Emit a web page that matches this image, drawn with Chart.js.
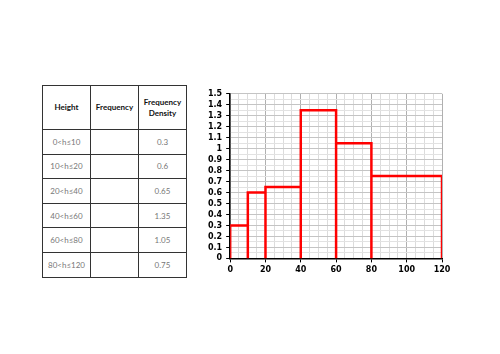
<!DOCTYPE html>
<html>
<head>
<meta charset="utf-8">
<script src="https://cdn.jsdelivr.net/npm/chart.js@4"></script>
<style>
  html, body { margin: 0; padding: 0; background: #fff; width: 500px; height: 354px; overflow: hidden; }
  #tbl { position: absolute; left: 42px; top: 85px; border-collapse: collapse; font-family: Lato, sans-serif; font-size: 8px; }
  #tbl th, #tbl td { border: 1px solid #333; width: 47px; text-align: center; padding: 0; }
  #tbl th { height: 43px; font-weight: bold; color: #111; line-height: 11px; }
  #tbl td { height: 23.6px; color: #777; }
  #wrap { position: absolute; left: 204px; top: 85px; width: 256px; height: 193px; }
</style>
</head>
<body>
<table id="tbl"></table>
<div id="wrap"><canvas id="chart"></canvas></div>
<script>
  // class boundaries and frequency densities
  var classLabels = ['0<h\u226410', '10<h\u226420', '20<h\u226440', '40<h\u226460', '60<h\u226480', '80<h\u2264120'];
  var edges = [0, 10, 20, 40, 60, 80, 120];
  var density = [0.3, 0.6, 0.65, 1.35, 1.05, 0.75];
  var headers = ['Height', 'Frequency', 'Frequency<br>Density'];

  function esc(s) { return s.replace(/&/g, '&amp;').replace(/</g, '&lt;'); }

  // table
  var html = '<tr>' + headers.map(function (h) { return '<th>' + h + '</th>'; }).join('') + '</tr>';
  classLabels.forEach(function (c, i) {
    html += '<tr><td>' + esc(c) + '</td><td></td><td>' + density[i] + '</td></tr>';
  });
  document.getElementById('tbl').innerHTML = html;

  // outline of each bar
  var pts = [];
  for (var i = 0; i < density.length; i++) {
    pts.push({x: edges[i], y: 0});
    pts.push({x: edges[i], y: density[i]});
    pts.push({x: edges[i + 1], y: density[i]});
    pts.push({x: edges[i + 1], y: 0});
  }

  var tickFont = {family: 'DejaVu Sans', size: 8, weight: 'bold'};

  new Chart(document.getElementById('chart'), {
    type: 'scatter',
    data: {
      datasets: [{
        data: pts,
        showLine: true,
        borderColor: '#ff0000',
        borderWidth: 2.5,
        pointRadius: 0,
        tension: 0
      }]
    },
    options: {
      responsive: true,
      maintainAspectRatio: false,
      animation: false,
      layout: {padding: {top: 6, right: 18, bottom: 0, left: 0}},
      plugins: {legend: {display: false}, tooltip: {enabled: false}},
      scales: {
        x: {
          type: 'linear',
          min: 0, max: 120,
          ticks: {
            stepSize: 5, color: '#000', font: tickFont, maxRotation: 0, autoSkip: false, padding: 3,
            callback: function (v) { return v % 20 === 0 ? v : ''; }
          },
          grid: {
            color: function (c) { return c.tick && c.tick.value % 20 === 0 ? '#b0b0b0' : '#dcdcdc'; },
            tickColor: function (c) { return c.tick && c.tick.value % 20 === 0 ? '#000' : 'rgba(0,0,0,0)'; },
            tickLength: 4
          },
          border: {color: '#000', width: 1.5}
        },
        y: {
          min: 0, max: 1.5,
          ticks: {
            stepSize: 0.05, color: '#000', font: tickFont, autoSkip: false, padding: 4,
            callback: function (v) {
              var k = Math.round(v * 100);
              return k % 10 === 0 ? String(k / 100) : '';
            }
          },
          grid: {
            color: function (c) { return c.tick && Math.round(c.tick.value * 100) % 10 === 0 ? '#c4c4c4' : '#e2e2e2'; },
            tickColor: function (c) { return c.tick && Math.round(c.tick.value * 100) % 10 === 0 ? '#000' : 'rgba(0,0,0,0)'; },
            tickLength: 4
          },
          border: {color: '#000', width: 1.5}
        }
      }
    }
  });
</script>
</body>
</html>
